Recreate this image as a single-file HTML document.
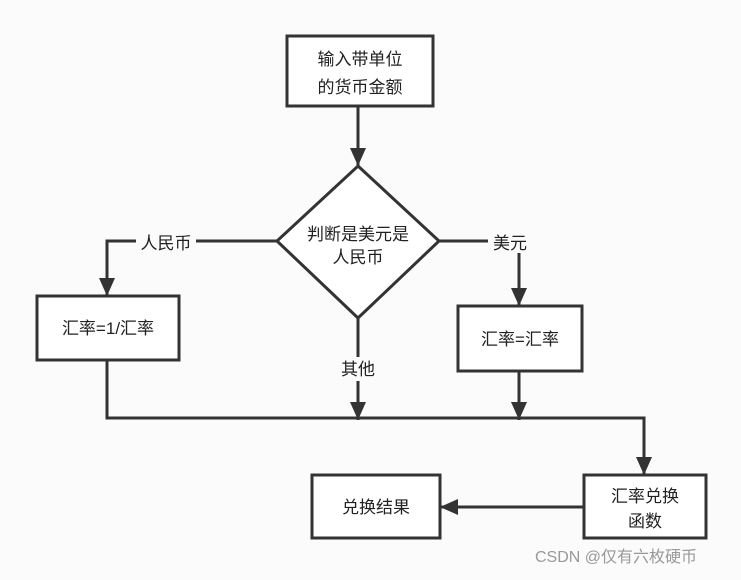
<!DOCTYPE html>
<html><head><meta charset="utf-8"><style>
html,body{margin:0;padding:0;background:#fbfbfb;}
svg text{font-family:"Liberation Sans","Noto Sans CJK SC",sans-serif;font-size:17px;fill:#222;}
</style></head><body>
<svg width="741" height="575" xmlns="http://www.w3.org/2000/svg">
<defs><marker id="a" markerWidth="10" markerHeight="10" refX="9" refY="5" orient="auto" markerUnits="userSpaceOnUse"><path d="M0,0 L10,5 L0,10 z" fill="#333"/></marker>
<marker id="b" markerWidth="18" markerHeight="20" refX="18" refY="10" orient="auto" markerUnits="userSpaceOnUse"><path d="M0,2 L18,10 L0,18 z" fill="#333"/></marker></defs>
<g stroke="#333" stroke-width="3" fill="none">
<rect x="287" y="36" width="146" height="70" fill="#fff"/>
<line x1="358" y1="106" x2="358" y2="166" marker-end="url(#b)"/>
<polygon points="358,166 439,241 358,318 277,241" fill="#fff"/>
<polyline points="277,241 107,241 107,296" marker-end="url(#b)"/>
<rect x="37" y="296" width="142" height="64" fill="#fff"/>
<polyline points="439,241 519,241 519,306" marker-end="url(#b)"/>
<rect x="458" y="306" width="124" height="65" fill="#fff"/>
<line x1="358" y1="318" x2="358" y2="420" marker-end="url(#b)"/>
<line x1="519" y1="371" x2="519" y2="420" marker-end="url(#b)"/>
<polyline points="107,360 107,418 644,418 644,475" marker-end="url(#b)"/>
<rect x="584" y="475" width="122" height="63" fill="#fff"/>
<line x1="584" y1="507" x2="440" y2="507" marker-end="url(#b)"/>
<rect x="312" y="475" width="128" height="63" fill="#fff"/>
</g>
<rect x="136" y="231" width="60" height="22" fill="#fbfbfb"/>
<rect x="488" y="231" width="44" height="22" fill="#fbfbfb"/>
<rect x="336" y="357" width="44" height="24" fill="#fbfbfb"/>
<g text-anchor="middle">
<text x="360" y="65">输入带单位</text>
<text x="360" y="93">的货币金额</text>
<text x="358" y="240">判断是美元是</text>
<text x="358" y="263">人民币</text>
<text x="166" y="249">人民币</text>
<text x="510" y="249">美元</text>
<text x="358" y="375">其他</text>
<text x="108" y="334">汇率=1/汇率</text>
<text x="520" y="345">汇率=汇率</text>
<text x="645" y="502">汇率兑换</text>
<text x="645" y="527">函数</text>
<text x="376" y="513">兑换结果</text>
</g>
<text x="535" y="562" style="font-size:16px;fill:#999">CSDN @仅有六枚硬币</text>
</svg>
</body></html>
